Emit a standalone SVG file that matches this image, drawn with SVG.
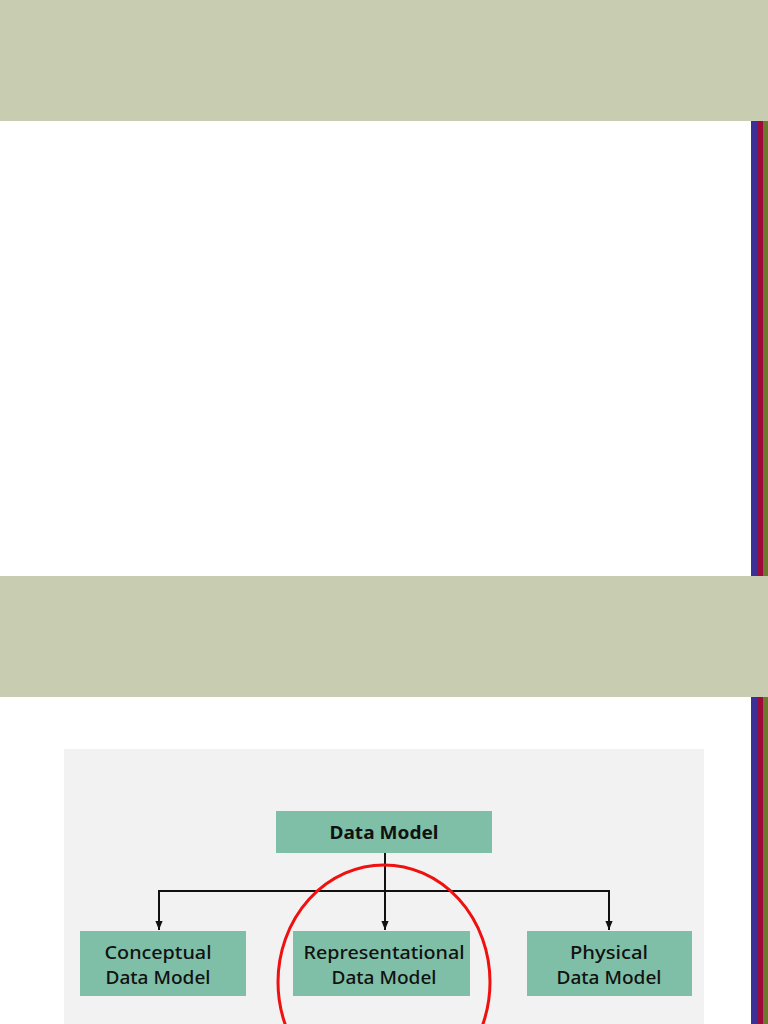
<svg xmlns="http://www.w3.org/2000/svg" width="768" height="1024" viewBox="0 0 768 1024">
<style>
.banner{fill:#c8ccb0}
.box{fill:#7fbfa7}
.lbl{font-family:"Noto Sans","DejaVu Sans",sans-serif;font-size:18.5px;fill:#111;text-anchor:middle;font-weight:500}
.title{font-weight:bold;font-size:18px}
.conn{stroke:#111;stroke-width:2;fill:none}
</style>
<defs>
<marker id="arr" viewBox="0 0 10 10" refX="10" refY="5" markerWidth="9" markerHeight="9" orient="auto" markerUnits="userSpaceOnUse">
<path d="M0,1 L10,5 L0,9 z" fill="#111"/>
</marker>
</defs>
<rect width="768" height="1024" fill="#ffffff"/>
<rect class="banner" x="0" y="0" width="768" height="121"/>
<rect class="banner" x="0" y="576" width="768" height="121"/>
<g id="stripes">
<rect x="751" y="121" width="6" height="455" fill="#3a3096"/>
<rect x="757" y="121" width="6" height="455" fill="#9e0a3c"/>
<rect x="763" y="121" width="5" height="455" fill="#6b7a2e"/>
<rect x="751" y="697" width="6" height="327" fill="#3a3096"/>
<rect x="757" y="697" width="6" height="327" fill="#9e0a3c"/>
<rect x="763" y="697" width="5" height="327" fill="#6b7a2e"/>
</g>
<rect x="64" y="749" width="640" height="275" fill="#f2f2f2"/>
<g id="connectors">
<path class="conn" d="M385,853 V929"/>
<path class="conn" d="M158,891 H610"/>
<path class="conn" d="M159,890 V930" marker-end="url(#arr)"/>
<path class="conn" d="M385,890 V930" marker-end="url(#arr)"/>
<path class="conn" d="M609,890 V930" marker-end="url(#arr)"/>
</g>
<g id="data-model">
<rect class="box" x="276" y="811" width="216" height="42"/>
<text class="lbl title" x="384" y="839" textLength="109" lengthAdjust="spacingAndGlyphs">Data Model</text>
</g>
<g id="conceptual">
<rect class="box" x="80" y="931" width="166" height="65"/>
<text class="lbl" x="158" y="959" textLength="107" lengthAdjust="spacingAndGlyphs">Conceptual</text>
<text class="lbl" x="158" y="984" textLength="105" lengthAdjust="spacingAndGlyphs">Data Model</text>
</g>
<g id="representational">
<rect class="box" x="293" y="931" width="177" height="65"/>
<text class="lbl" x="384" y="959" textLength="161" lengthAdjust="spacingAndGlyphs">Representational</text>
<text class="lbl" x="384" y="984" textLength="105" lengthAdjust="spacingAndGlyphs">Data Model</text>
</g>
<g id="physical">
<rect class="box" x="527" y="931" width="165" height="65"/>
<text class="lbl" x="609" y="959" textLength="78" lengthAdjust="spacingAndGlyphs">Physical</text>
<text class="lbl" x="609" y="984" textLength="105" lengthAdjust="spacingAndGlyphs">Data Model</text>
</g>
<ellipse id="highlight" cx="384" cy="982" rx="106" ry="117" fill="none" stroke="#f01010" stroke-width="3"/>
</svg>
